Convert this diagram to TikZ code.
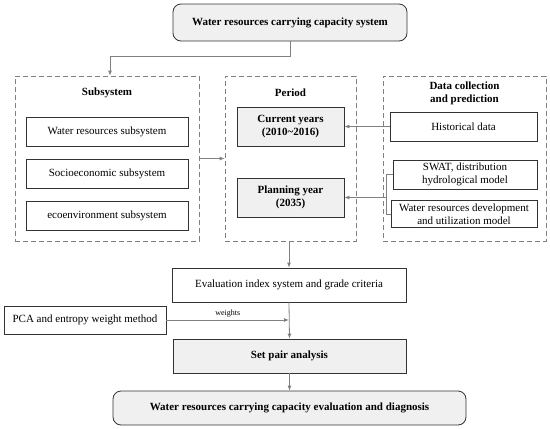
\documentclass[tikz,border=0pt]{standalone}
\usepackage{fontspec}
\setmainfont{Liberation Serif}
\usetikzlibrary{arrows.meta}
\begin{document}
\begin{tikzpicture}[x=1pt,y=-1pt,
 box/.style={draw=black!80, line width=0.8pt, fill=white, inner sep=0pt, align=center, font=\fontsize{11}{13}\selectfont},
 graybox/.style={box, fill=black!6, font=\bfseries\fontsize{11}{13}\selectfont},
 roundbox/.style={graybox, rounded corners=8pt},
 group/.style={draw=black!50, dash pattern=on 5pt off 3pt, line width=0.8pt, inner sep=0pt},
 arr/.style={draw=black!50, line width=0.8pt, -{Latex[length=5pt,width=4pt]}},
 ln/.style={draw=black!50, line width=0.8pt},
 ttl/.style={font=\bfseries\fontsize{11}{13}\selectfont, align=center, inner sep=0pt}]
\useasboundingbox (0,0) rectangle (550,429);

% top
\node[roundbox, minimum width=234, minimum height=37] (top) at (290,22.5) {Water resources carrying capacity system};

% groups
\node[group, minimum width=184, minimum height=165] (sub) at (107,158.5) {};
\node[group, minimum width=131, minimum height=165] (per) at (290.5,158.5) {};
\node[group, minimum width=163, minimum height=165] (dat) at (464.5,158.5) {};

\node[ttl] (subt) at (107,93) {Subsystem};
\node[ttl] (pert) at (290.5,93) {Period};
\node[ttl] (datt) at (464.5,93) {Data collection\\and prediction};

% subsystem boxes
\node[box, minimum width=162, minimum height=29] (s1) at (107,131.5) {Water resources subsystem};
\node[box, minimum width=162, minimum height=29] (s2) at (107,173.5) {Socioeconomic subsystem};
\node[box, minimum width=162, minimum height=29] (s3) at (107,216) {ecoenvironment subsystem};

% period boxes
\node[graybox, minimum width=107, minimum height=39] (cur) at (290.5,126.5) {Current years\\(2010\textasciitilde2016)};
\node[graybox, minimum width=107, minimum height=39] (plan) at (290.5,197.5) {Planning year\\(2035)};

% data boxes
\node[box, minimum width=147, minimum height=29] (hist) at (463.5,126.5) {Historical data};
\node[box, minimum width=144, minimum height=29, font=\fontsize{11}{12.5}\selectfont] (swat) at (465,174.5) {SWAT, distribution\\hydrological model};
\node[box, minimum width=146, minimum height=27, font=\fontsize{11}{12.5}\selectfont] (wd) at (464,214) {Water resources development\\and utilization model};

% lower boxes
\node[box, minimum width=234, minimum height=34] (eval) at (289,285) {Evaluation index system and grade criteria};
\node[box, minimum width=162, minimum height=28] (pca) at (85,320) {PCA and entropy weight method};
\node[graybox, minimum width=233, minimum height=34] (spa) at (289.5,356) {Set pair analysis};
\node[roundbox, minimum width=353, minimum height=34] (fin) at (289.5,408) {Water resources carrying capacity evaluation and diagnosis};

% connectors
\coordinate (e1) at (110,56);
\draw[arr] (top.south) -- (top.south |- e1) -- (e1) -- (e1 |- sub.north);
\draw[arr] (sub.east) -- (per.west);
\draw[arr] (hist.west) -- (cur.east);
\coordinate (br) at (386,197.5);
\draw[ln] (swat.west) -- (br |- swat.west) -- (br |- wd.west) -- (wd.west);
\draw[arr] (br) -- (plan.east);
\draw[arr] (eval.north |- per.south) -- (eval.north);
\draw[arr] (pca.east) -- node[above, font=\fontsize{8}{9}\selectfont, pos=0.5, inner sep=2pt] (wl) {weights} (pca.east -| eval.south);
\draw[arr] (eval.south) -- (spa.north);
\draw[arr] (spa.south) -- (fin.north);
\end{tikzpicture}
\end{document}
